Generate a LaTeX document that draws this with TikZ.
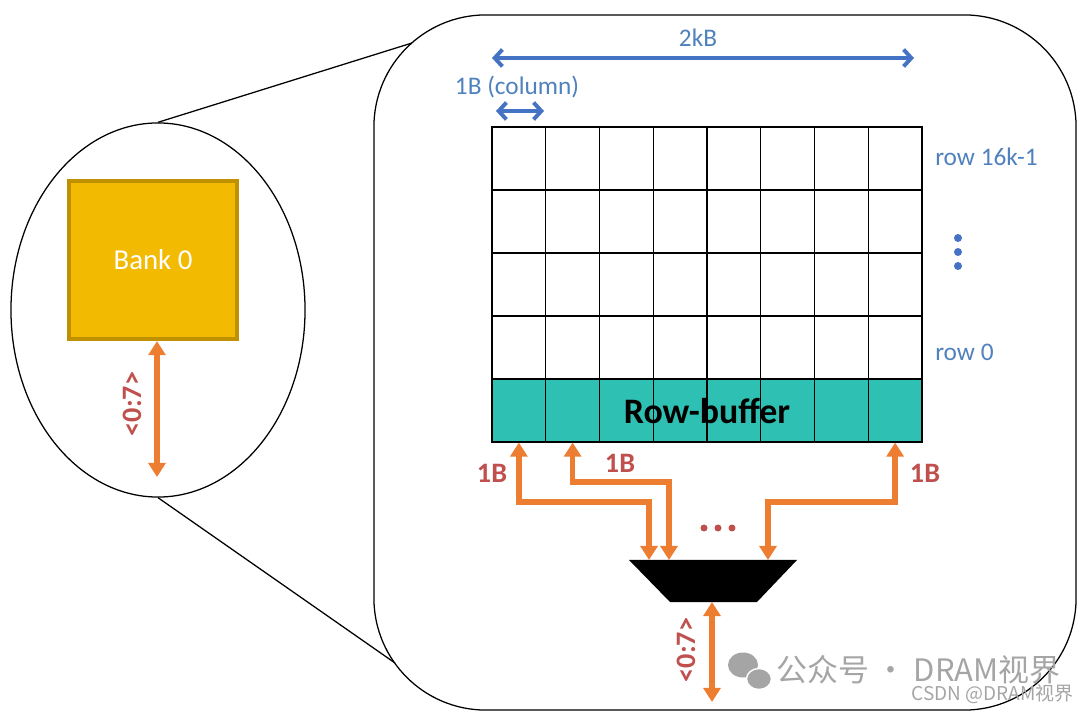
\documentclass[tikz,border=0pt]{standalone}
\usepackage{fontspec}
\setmainfont{Carlito}
\newfontfamily\cjkfont{Noto Sans CJK SC}
\usetikzlibrary{arrows.meta,shapes.geometric,positioning,calc}
\definecolor{BankColor}{RGB}{242,186,0}
\definecolor{BankEdge} {RGB}{191,144,0}
\definecolor{BufColor} {RGB}{47,192,180}
\definecolor{BusColor} {RGB}{237,125,49}
\definecolor{LblColor} {RGB}{192,80,77}
\definecolor{DimColor} {RGB}{68,114,196}
\definecolor{DimText}  {RGB}{79,129,189}
\definecolor{MarkColor}{RGB}{165,165,165}

\begin{document}
\begin{tikzpicture}[x=0.025cm,y=-0.025cm,
  every node/.style={inner sep=0pt},
  cell/.style={draw,line width=0.8pt,minimum width=1.34375cm,minimum height=1.575cm},
  bus/.style={BusColor,line width=4pt,{Triangle[width=12pt,length=10pt]}-{Triangle[width=12pt,length=10pt]}},
  dim/.style={DimColor,line width=2.8pt,{Straight Barb[width=12pt,length=5.5pt]}-{Straight Barb[width=12pt,length=5.5pt]}},
  buslbl/.style={text=LblColor,font=\bfseries\fontsize{20}{24}\selectfont},
  dimlbl/.style={text=DimText,font=\fontsize{18}{22}\selectfont}]
\useasboundingbox (0,0) rectangle (1080,714);
% zoomed bank
\node[draw,ellipse,line width=0.9pt,minimum width=7.35cm,minimum height=9.35cm] (lens) at (158,310) {};
\node[draw,rounded corners=2.8cm,line width=0.9pt,minimum width=17.55cm,minimum height=17.375cm] (chip) at (725,362.5) {};
\coordinate (zt) at (412,43);
\coordinate (zb) at (395,663);
\draw[line width=0.9pt] (lens.north) -- (zt);
\draw[line width=0.9pt] (lens.south) -- (zb);
\node[draw=BankEdge,fill=BankColor,line width=3pt,minimum width=4.2cm,minimum height=3.95cm,
      text=white,font=\fontsize{20.5}{24}\selectfont] (bank) at (153,260) {Bank 0};
\coordinate (bankio) at (157,477);
\draw[bus] (bank.south -| bankio) -- (bankio);
\node[buslbl,rotate=90] (bankw) at (132,404) {<0:7>};
% cell array
\foreach \c in {0,...,7} {
  \foreach \r in {0,...,3}
    \node[cell] (m\r\c) at ({518.875+53.75*\c},{158.5+63*\r}) {};
  \node[cell,fill=BufColor] (b\c) at ({518.875+53.75*\c},410.5) {};
}
\node[font=\bfseries\fontsize{25.5}{30}\selectfont] (rbuf) at (707,411) {Row-buffer};
\node[dimlbl,anchor=west] (rtop) at (935,157) {row 16k-1};
\node[dimlbl,anchor=west] (rbot) at (935,352) {row 0};
\foreach \y in {238,252,266} \fill[DimColor] (958,\y) circle (4);
% widths
\coordinate (w0) at (492,58);
\coordinate (w1) at (914,58);
\draw[dim] (w0) -- (w1);
\node[dimlbl] (wlbl) at (698,38) {2kB};
\coordinate (cw0) at (496,111);
\coordinate (cw1) at (544,111);
\draw[dim] (cw0) -- (cw1);
\node[dimlbl] (cwlbl) at (517,87) {1B (column)};
% mux
\fill (629,560) -- (797,560) -- (757,602) -- (670,602) -- cycle;
\coordinate (in1) at (649,560);
\coordinate (in2) at (669,560);
\coordinate (in3) at (768,560);
\coordinate (muxout) at (712,602);
\coordinate (dout) at (712,702);
\draw[bus] (b0.south) -- (b0.south |- 0,502) -| (in1);
\draw[bus] (b1.south) -- (b1.south |- 0,482) -| (in2);
\draw[bus] (b7.south) -- (b7.south |- 0,502) -| (in3);
\draw[bus] (muxout) -- (dout);
\node[buslbl] (l1) at (492,473) {1B};
\node[buslbl] (l2) at (620,463) {1B};
\node[buslbl] (l3) at (925,473) {1B};
\foreach \x in {704,718,732} \fill[LblColor] (\x,528) circle (3.5);
\node[buslbl,rotate=90] (outw) at (686,650) {<0:7>};
% watermark
\fill[MarkColor] (743,665) ellipse (15 and 12.5);
\fill[MarkColor,draw=white,line width=1pt] (759,679) ellipse (12.5 and 10.5);
\node[text=MarkColor,font=\cjkfont\fontsize{22}{26}\selectfont,anchor=west] (mark) at (776,670) {公众号 · DRAM视界};
\node[text=MarkColor,font=\cjkfont\fontsize{13.5}{16}\selectfont,anchor=east] (csdn) at (1074,694) {CSDN @DRAM视界};
\end{tikzpicture}
\end{document}
